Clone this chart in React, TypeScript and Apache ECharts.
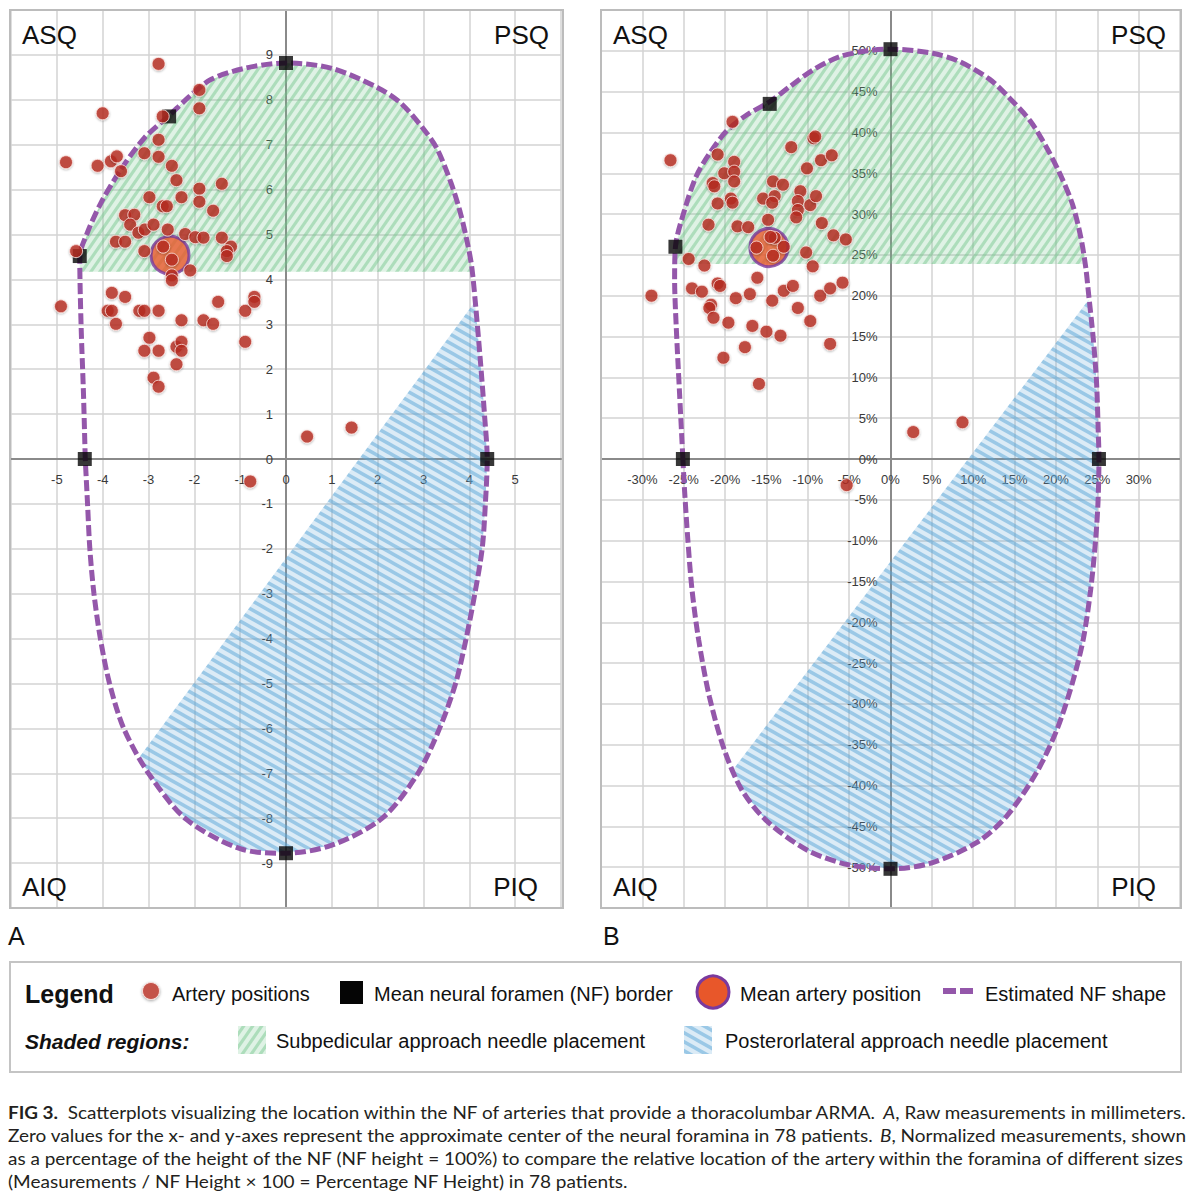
import React, { useEffect, useRef } from "react";
import * as echarts from "echarts";

// ---------- Panel A: raw measurements (mm) ----------
const xRangeA = [-6, 6];
const yRangeA = [-10, 10];
const stepA = 1;

// Artery positions, [x, y] in mm
const arteriesA: number[][] = [
  [-2.78, 8.8], [-1.89, 8.22], [-1.89, 7.81], [-4.0, 7.7], [-2.69, 7.63],
  [-2.78, 7.11], [-4.8, 6.61], [-4.11, 6.53], [-3.82, 6.63], [-3.69, 6.74],
  [-3.6, 6.41], [-3.09, 6.81], [-2.78, 6.73], [-2.49, 6.53], [-2.39, 6.21],
  [-1.89, 6.02], [-1.4, 6.13], [-2.98, 5.83], [-2.69, 5.63], [-2.6, 5.63],
  [-2.28, 5.83], [-1.89, 5.73], [-1.59, 5.53], [-3.51, 5.43], [-3.31, 5.44],
  [-3.4, 5.22], [-3.22, 5.04], [-3.08, 5.11], [-2.89, 5.22], [-2.58, 5.11],
  [-2.2, 5.01], [-1.98, 4.94], [-1.8, 4.93], [-1.4, 4.93], [-1.2, 4.73],
  [-1.29, 4.63], [-1.29, 4.52], [-3.71, 4.84], [-3.51, 4.84], [-3.09, 4.63],
  [-4.58, 4.63], [-2.68, 4.73], [-2.49, 4.44], [-2.49, 4.09], [-2.49, 3.98],
  [-2.09, 4.2], [-3.8, 3.7], [-3.51, 3.61], [-4.91, 3.4], [-3.89, 3.3],
  [-3.8, 3.3], [-3.2, 3.3], [-3.09, 3.3], [-2.78, 3.3], [-3.71, 3.01],
  [-2.28, 3.09], [-1.8, 3.09], [-1.59, 3.01], [-1.48, 3.5], [-0.89, 3.3],
  [-0.69, 3.61], [-0.69, 3.5], [-2.98, 2.7], [-3.09, 2.41], [-2.78, 2.41],
  [-2.39, 2.5], [-2.28, 2.61], [-2.28, 2.41], [-2.39, 2.11], [-0.89, 2.61],
  [-2.89, 1.81], [-2.78, 1.61], [-0.78, -0.5], [0.46, 0.5], [1.43, 0.7],
];
const meanArteryA = [[-2.53, 4.54]];
const nfBorderA = [[0, 8.82], [-2.55, 7.63], [-4.5, 4.52], [-4.39, 0], [4.39, 0], [0, -8.78]];
// Estimated NF outline, clockwise from the anterior mid-point
const nfShapeA: number[][] = [
  [-4.38, 0], [-4.42, 1.5], [-4.47, 2.95], [-4.5, 4.5], [-4.33, 5.05], [-4.04, 5.7],
  [-3.6, 6.45], [-3.09, 7.15], [-2.55, 7.65], [-2.1, 8.08], [-1.64, 8.45], [-0.91, 8.7],
  [0, 8.82], [1.0, 8.7], [2.0, 8.27], [2.5, 7.93], [3.0, 7.35], [3.3, 6.9], [3.6, 6.15],
  [3.8, 5.5], [3.95, 4.85], [4.05, 4.3], [4.13, 3.5], [4.24, 2.2], [4.33, 1.0], [4.39, 0],
  [4.35, -1.0], [4.28, -2.0], [4.12, -3.0], [3.93, -4.0], [3.7, -5.0], [3.35, -6.0],
  [2.88, -7.0], [2.1, -8.0], [1.0, -8.6], [0, -8.78], [-1.0, -8.68], [-2.18, -8.02],
  [-3.0, -7.0], [-3.54, -6.0], [-3.85, -5.0], [-4.05, -4.0], [-4.19, -3.0], [-4.28, -2.0],
  [-4.33, -1.0],
];
const subpedicularCutA = { y: 4.17, left: -4.5, right: 4.07 };
const posterolateralEdgeA = [[4.12, 3.5], [-3.2, -6.64]];

// ---------- Panel B: normalized measurements (% of NF height) ----------
const xRangeB = [-35, 35];
const yRangeB = [-55, 55];
const stepB = 5;

const arteriesB: number[][] = [
  [-26.6, 36.6], [-19.1, 41.3], [-20.9, 37.3], [-18.9, 36.4], [-20.1, 35.0],
  [-21.5, 33.8], [-21.3, 33.4], [-18.9, 35.2], [-18.9, 34.0], [-20.9, 31.3],
  [-19.3, 31.9], [-19.1, 31.4], [-22.0, 28.7], [-18.5, 28.5], [-17.2, 28.4],
  [-14.8, 29.3], [-15.4, 31.9], [-14.2, 34.0], [-13.0, 33.6], [-14.0, 32.2],
  [-14.3, 31.4], [-12.0, 38.2], [-10.9, 32.8], [-11.2, 31.6], [-11.2, 30.5],
  [-11.4, 29.6], [-9.7, 31.1], [-9.0, 32.2], [-10.1, 35.6], [-9.3, 39.3],
  [-9.1, 39.5], [-8.4, 36.6], [-7.1, 37.2], [-8.3, 28.9], [-6.9, 27.4],
  [-5.4, 26.9], [-10.2, 25.3], [-9.4, 23.6], [-24.4, 24.5], [-22.5, 23.7],
  [-16.2, 25.9], [-14.2, 24.9], [-12.9, 26.0], [-14.0, 27.1], [-14.5, 27.2],
  [-28.9, 20.0], [-24.0, 20.9], [-22.8, 20.5], [-20.9, 21.5], [-20.6, 21.2],
  [-21.7, 18.9], [-21.9, 18.5], [-21.4, 17.3], [-19.6, 16.7], [-18.7, 19.7],
  [-17.0, 20.2], [-16.1, 22.2], [-14.3, 19.4], [-12.9, 20.6], [-11.8, 21.2],
  [-11.2, 18.5], [-16.7, 16.3], [-15.0, 15.6], [-13.3, 15.1], [-9.7, 16.9],
  [-8.5, 20.0], [-7.3, 20.9], [-5.8, 21.6], [-17.6, 13.7], [-20.2, 12.4],
  [-7.3, 14.1], [-15.9, 9.2], [-5.3, -3.2], [2.75, 3.3], [8.7, 4.5],
];
const meanArteryB = [[-14.7, 25.9]];
const nfBorderB = [[0, 50.2], [-14.6, 43.5], [-26.0, 26.0], [-25.1, 0], [25.2, 0], [0, -50.2]];
const nfShapeB: number[][] = [
  [-25.1, 0], [-25.5, 8.0], [-25.9, 16.1], [-26.1, 22.0], [-26.0, 26.0], [-24.9, 30.5],
  [-23.5, 34.6], [-21.9, 37.4], [-19.8, 40.2], [-17.3, 42.2], [-14.7, 43.7], [-12.2, 45.6],
  [-9.3, 47.7], [-6.1, 49.3], [-2.8, 50.0], [0, 50.2], [5.1, 49.7], [8.3, 48.7],
  [12.0, 46.5], [14.4, 44.2], [16.9, 41.4], [18.9, 38.1], [20.5, 34.9], [22.0, 31.2],
  [23.0, 27.2], [23.6, 23.5], [23.95, 20.2], [24.5, 14.9], [24.9, 9.6], [25.1, 3.9],
  [25.2, 0], [25.1, -5.0], [24.8, -9.9], [24.2, -16.0], [23.3, -22.1], [22.0, -27.4],
  [20.1, -33.2], [17.6, -38.5], [14.0, -43.8], [10.4, -47.0], [4.9, -49.5], [0, -50.2],
  [-5.1, -49.7], [-10.1, -47.9], [-15.1, -44.2], [-18.0, -40.5], [-20.1, -35.6],
  [-21.9, -29.1], [-23.2, -22.1], [-24.0, -16.0], [-24.5, -9.9], [-24.9, -3.8],
];
const subpedicularCutB = { y: 23.9, left: -26.1, right: 23.65 };
const posterolateralEdgeB = [[23.95, 19.5], [-19.0, -38.0]];

// ---------- Text ----------
const quadrantLabels = ["ASQ", "PSQ", "AIQ", "PIQ"];
const panelLetters = ["A", "B"];
const legendTexts = [
  "Artery positions",
  "Mean neural foramen (NF) border",
  "Mean artery position",
  "Estimated NF shape",
  "Subpedicular approach needle placement",
  "Posterorlateral approach needle placement",
];
type Seg = { t: string; s?: "b" | "i" };
const captionLines: Seg[][] = [
  [
    { t: "FIG 3.", s: "b" },
    { t: "  Scatterplots visualizing the location within the NF of arteries that provide a thoracolumbar ARMA. " },
    { t: "A", s: "i" },
    { t: ", Raw measurements in millimeters." },
  ],
  [
    { t: "Zero values for the x- and y-axes represent the approximate center of the neural foramina in 78 patients. " },
    { t: "B", s: "i" },
    { t: ", Normalized measurements, shown" },
  ],
  [{ t: "as a percentage of the height of the NF (NF height = 100%) to compare the relative location of the artery within the foramina of different sizes" }],
  [{ t: "(Measurements / NF Height \u00d7 100 = Percentage NF Height) in 78 patients." }],
];
const captionWidths = [1178, 1178, 1178, 621];

const FONT = "'Liberation Sans', Arial, Helvetica, sans-serif";
const CAPTION_FONT = "Lato, 'Liberation Sans', sans-serif";
const PURPLE = "#9457aa";

// plot rectangles of the two panels (pixels)
const gridA = { left: 11, top: 10, width: 550, height: 898 };
const gridB = { left: 601, top: 10, width: 579, height: 898 };

// Region built from the outline: everything above the subpedicular cut line
function subpedicularRegion(outline: number[][], cut: { y: number; left: number; right: number }) {
  const run = outline.filter((p) => p[1] > cut.y);
  return [[cut.left, cut.y], ...run, [cut.right, cut.y]];
}

// Region bounded by the posterolateral needle edge and the posterior/inferior outline
function posterolateralRegion(outline: number[][], edge: number[][]) {
  const [top, bottom] = edge;
  const run = outline.filter((p) => (p[0] > 0 && p[1] < top[1]) || (p[0] <= 0 && p[1] < bottom[1]));
  return [top, ...run, bottom];
}

function hatch(w: number, h: number, rising: boolean, bg: string, stripe: string, lw: number) {
  const c = document.createElement("canvas");
  c.width = w;
  c.height = h;
  const ctx = c.getContext("2d")!;
  ctx.fillStyle = bg;
  ctx.fillRect(0, 0, w, h);
  ctx.strokeStyle = stripe;
  ctx.lineWidth = lw;
  for (let k = -3; k <= 3; k++) {
    ctx.beginPath();
    if (rising) {
      ctx.moveTo(-w, (k + 2) * h);
      ctx.lineTo(2 * w, (k - 1) * h);
    } else {
      ctx.moveTo(-w, (k - 1) * h);
      ctx.lineTo(2 * w, (k + 2) * h);
    }
    ctx.stroke();
  }
  return { image: c, repeat: "repeat", imageWidth: w, imageHeight: h } as any;
}

function measureLine(segs: Seg[], size: number) {
  const ctx = document.createElement("canvas").getContext("2d")!;
  let total = 0;
  for (const s of segs) {
    const weight = s.s === "b" ? "bold " : "";
    const style = s.s === "i" ? "italic " : "";
    ctx.font = `${style}${weight}${size}px ${CAPTION_FONT}`;
    total += ctx.measureText(s.t).width;
  }
  return total;
}

function buildOption() {
  const greenFill = hatch(9, 13, true, "rgba(110,195,135,0.22)", "rgba(110,195,135,0.45)", 3.2);
  const blueFill = hatch(16, 9, false, "rgba(90,165,215,0.22)", "rgba(90,165,215,0.5)", 3.6);

  // axes drawn through the origin: the axis is shifted from the grid edge to the zero line
  const makeAxis = (dim: "x" | "y", gridIndex: number, rect: any, range: number[], step: number,
    fmt: (v: number) => string) => {
    const span = dim === "x" ? rect.height : rect.width;
    const frac = dim === "x" ? (0 - range[0]) / (range[1] - range[0]) : (range[1] - 0) / (range[1] - range[0]);
    const shift = dim === "x" ? -span * frac : -span * (1 - frac);
    return {
      type: "value",
      gridIndex,
      position: dim === "x" ? "bottom" : "left",
      offset: shift,
      min: range[0],
      max: range[1],
      interval: step,
      axisLine: { onZero: false, lineStyle: { color: "#8a8a8a", width: 2 } },
      axisTick: { show: false },
      splitLine: { show: true, lineStyle: { color: "#d3d3d3", width: 1.5 } },
      axisLabel: {
        showMinLabel: false,
        showMaxLabel: false,
        margin: dim === "x" ? 14 : 13,
        fontSize: 13,
        color: "#3a3a3a",
        fontFamily: FONT,
        formatter: fmt,
      },
    };
  };

  const panelSeries = (idx: number, arteries: number[][], mean: number[][], border: number[][],
    outline: number[][], cut: any, edge: number[][]) => {
    const green = subpedicularRegion(outline, cut);
    const blue = posterolateralRegion(outline, edge);
    const region = (pts: number[][], fill: any) => ({
      type: "custom",
      xAxisIndex: idx,
      yAxisIndex: idx,
      coordinateSystem: "cartesian2d",
      data: [pts[0]],
      silent: true,
      z: 1,
      renderItem: (_p: any, api: any) => ({
        type: "polygon",
        shape: { points: pts.map((p) => api.coord(p)) },
        style: { fill, stroke: null },
      }),
    });
    return [
      region(green, greenFill),
      region(blue, blueFill),
      {
        type: "line",
        xAxisIndex: idx,
        yAxisIndex: idx,
        data: [...outline, outline[0]],
        smooth: 0.3,
        symbol: "none",
        silent: true,
        z: 3,
        lineStyle: { color: PURPLE, width: 5, type: [11, 4] },
      },
      {
        type: "scatter",
        xAxisIndex: idx,
        yAxisIndex: idx,
        data: border,
        symbol: "rect",
        symbolSize: 14,
        z: 4,
        itemStyle: { color: "#050505" },
      },
      {
        type: "scatter",
        xAxisIndex: idx,
        yAxisIndex: idx,
        data: mean,
        symbolSize: 38,
        z: 5,
        itemStyle: { color: "#e8572a", borderColor: "#7a3a9e", borderWidth: 3 },
      },
      {
        type: "scatter",
        xAxisIndex: idx,
        yAxisIndex: idx,
        data: arteries,
        symbolSize: 13,
        z: 6,
        itemStyle: {
          color: "#b8291f",
          opacity: 0.8,
          borderColor: "#fde6e2",
          borderWidth: 1,
          shadowBlur: 2,
          shadowColor: "rgba(0,0,0,0.3)",
          shadowOffsetY: 1,
        },
      },
    ];
  };

  // ---- graphic elements: frames, quadrant names, legend, caption ----
  const g: any[] = [];
  const panels = [
    { x: 10, w: 553, tl: 22, tr: 549, bl: 22, br: 538 },
    { x: 601, w: 580, tl: 613, tr: 1166, bl: 613, br: 1156 },
  ];
  panels.forEach((p, i) => {
    g.push({ type: "rect", shape: { x: p.x, y: 10, width: p.w, height: 898 }, style: { fill: null, stroke: "#bcbcbc", lineWidth: 2 }, z: 50 });
    const txt = (t: string, x: number, y: number, align: string) => ({
      type: "text", x, y, z: 60,
      style: { text: t, fontSize: 26, fontFamily: FONT, fill: "#111", align, verticalAlign: "middle" },
    });
    g.push(txt(quadrantLabels[0], p.tl, 35, "left"));
    g.push(txt(quadrantLabels[1], p.tr, 35, "right"));
    g.push(txt(quadrantLabels[2], p.bl, 887, "left"));
    g.push(txt(quadrantLabels[3], p.br, 887, "right"));
    g.push({
      type: "text", x: i === 0 ? 8 : 603, y: 936, z: 60,
      style: { text: panelLetters[i], fontSize: 25, fontFamily: FONT, fill: "#111", verticalAlign: "middle" },
    });
  });

  // legend frame
  g.push({ type: "rect", shape: { x: 10, y: 962, width: 1171, height: 110 }, style: { fill: "#fff", stroke: "#c4c4c4", lineWidth: 2 }, z: 50 });
  const ltxt = (t: string, x: number, y: number, extra: any = {}) => ({
    type: "text", x, y, z: 60,
    style: { text: t, fontSize: 20, fontFamily: FONT, fill: "#111", verticalAlign: "middle", ...extra },
  });
  g.push(ltxt("Legend", 25, 994, { fontSize: 25, fontWeight: "bold" }));
  g.push({ type: "circle", shape: { cx: 151, cy: 991, r: 8.5 }, z: 60,
    style: { fill: "#c4524a", stroke: "#f7dcd8", lineWidth: 1, shadowBlur: 3, shadowColor: "rgba(0,0,0,0.35)", shadowOffsetY: 1 } });
  g.push(ltxt(legendTexts[0], 172, 994));
  g.push({ type: "rect", shape: { x: 340, y: 981, width: 23, height: 23 }, style: { fill: "#050505" }, z: 60 });
  g.push(ltxt(legendTexts[1], 374, 994));
  g.push({ type: "circle", shape: { cx: 713, cy: 992, r: 16 }, style: { fill: "#e8572a", stroke: "#7a3a9e", lineWidth: 3 }, z: 60 });
  g.push(ltxt(legendTexts[2], 740, 994));
  g.push({ type: "rect", shape: { x: 943, y: 988, width: 13, height: 6 }, style: { fill: PURPLE }, z: 60 });
  g.push({ type: "rect", shape: { x: 960, y: 988, width: 13, height: 6 }, style: { fill: PURPLE }, z: 60 });
  g.push(ltxt(legendTexts[3], 985, 994));
  g.push(ltxt("Shaded regions:", 25, 1041, { fontSize: 21, fontWeight: "bold", fontStyle: "italic" }));
  g.push({ type: "rect", shape: { x: 238, y: 1026, width: 28, height: 28 }, style: { fill: greenFill }, z: 60 });
  g.push(ltxt(legendTexts[4], 276, 1041));
  g.push({ type: "rect", shape: { x: 684, y: 1026, width: 28, height: 28 }, style: { fill: blueFill }, z: 60 });
  g.push(ltxt(legendTexts[5], 725, 1041));

  // caption, each line fitted to its measured width
  const capSize = 17;
  captionLines.forEach((segs, i) => {
    const natural = measureLine(segs, capSize);
    const sx = captionWidths[i] / natural;
    const text = segs.map((s) => (s.s ? `{${s.s}|${s.t}}` : s.t)).join("");
    g.push({
      type: "text", x: 8, y: 1112 + i * 23, scaleX: sx, z: 60,
      style: {
        text,
        fontSize: capSize,
        fontFamily: CAPTION_FONT,
        fill: "#231f20",
        verticalAlign: "middle",
        rich: {
          b: { fontWeight: "bold", fontSize: capSize, fontFamily: CAPTION_FONT, fill: "#231f20" },
          i: { fontStyle: "italic", fontSize: capSize, fontFamily: CAPTION_FONT, fill: "#231f20" },
        },
      },
    });
  });

  return {
    animation: false,
    backgroundColor: "#ffffff",
    grid: [
      { ...gridA, outerBoundsMode: "none", containLabel: false },
      { ...gridB, outerBoundsMode: "none", containLabel: false },
    ],
    xAxis: [
      makeAxis("x", 0, gridA, xRangeA, stepA, (v) => `${v}`),
      makeAxis("x", 1, gridB, xRangeB, stepB, (v) => `${v}%`),
    ],
    yAxis: [
      makeAxis("y", 0, gridA, yRangeA, stepA, (v) => `${v}`),
      makeAxis("y", 1, gridB, yRangeB, stepB, (v) => `${v}%`),
    ],
    series: [
      ...panelSeries(0, arteriesA, meanArteryA, nfBorderA, nfShapeA, subpedicularCutA, posterolateralEdgeA),
      ...panelSeries(1, arteriesB, meanArteryB, nfBorderB, nfShapeB, subpedicularCutB, posterolateralEdgeB),
    ],
    graphic: g,
  };
}

export default function App() {
  const ref = useRef<HTMLDivElement>(null);
  useEffect(() => {
    const chart = echarts.init(ref.current!, null, { renderer: "svg" });
    chart.setOption(buildOption() as any);
    return () => chart.dispose();
  }, []);
  return (
    <div
      ref={ref}
      style={{ position: "absolute", left: 0, top: 0, width: 1196, height: 1203, background: "#fff" }}
    />
  );
}
